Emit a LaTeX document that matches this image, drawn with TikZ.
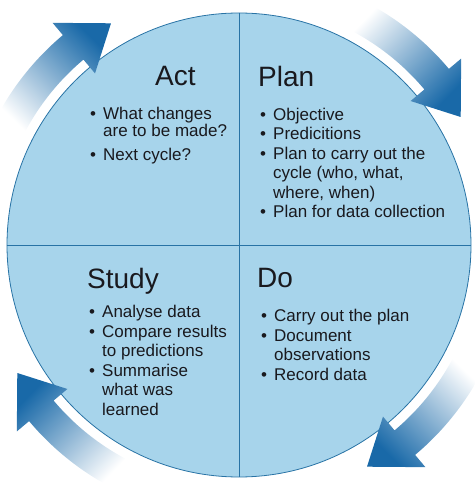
\documentclass[tikz,border=0pt]{standalone}
\usepackage{fontspec}
\setmainfont{Liberation Sans}
\usepackage{tikz}
\usepackage{xcolor}

\definecolor{circlefill}{RGB}{167,212,235}
\definecolor{circleline}{RGB}{40,115,165}
\definecolor{arrowblue}{RGB}{25,105,168}
\definecolor{textdark}{RGB}{25,25,30}

\newlength{\bulw}
\setlength{\bulw}{13pt}
\newcommand{\bul}{\makebox[\bulw][l]{\textbullet}}
\newcommand{\ind}{\hspace*{\bulw}}

\begin{document}
\begin{tikzpicture}[x=1pt, y=1pt,
    title/.style={anchor=base west, inner sep=0pt, text=textdark, font=\fontsize{28}{30}\selectfont},
    items/.style={anchor=base west, inner sep=0pt, align=left, text=textdark, font=\fontsize{17}{19.5}\selectfont},
    cyclearrow/.style={top color=arrowblue, bottom color=white, shading angle=#1}]

    \useasboundingbox (-239,-239) rectangle (235,245);

    % Circle and quadrants
    \node[circle, draw=circleline, line width=0.8pt, fill=circlefill, minimum size=464pt, inner sep=0pt] (cycle) at (0,0) {};
    \draw[circleline, line width=0.9pt] (cycle.north) -- (cycle.south);
    \draw[circleline, line width=0.9pt] (cycle.west) -- (cycle.east);

    % Arrows round the circle
    \shade[cyclearrow=-44] (153:242) arc[start angle=153, end angle=130, radius=242] -- (130:224) -- (120:256)
        -- (130:290) -- (130:274) arc[start angle=130, end angle=153, radius=274] -- cycle;
    \shade[cyclearrow=-134] (63:242) arc[start angle=63, end angle=40, radius=242] -- (40:224) -- (30:256)
        -- (40:290) -- (40:274) arc[start angle=40, end angle=63, radius=274] -- cycle;
    \shade[cyclearrow=136] (-27:242) arc[start angle=-27, end angle=-50, radius=242] -- (-50:224) -- (-60:256)
        -- (-50:290) -- (-50:274) arc[start angle=-50, end angle=-27, radius=274] -- cycle;
    \shade[cyclearrow=46] (-117:242) arc[start angle=-117, end angle=-140, radius=242] -- (-140:224) -- (-150:256)
        -- (-140:290) -- (-140:274) arc[start angle=-140, end angle=-117, radius=274] -- cycle;

    % Act (list placed by its last line)
    \node[title] (act) at (-84,159) {Act};
    \node[items, font=\fontsize{17}{17}\selectfont] (actlist) at (-149,84)
        {\bul What changes\\ \ind are to be made?\\[7pt] \bul Next cycle?};

    % Plan
    \node[title] (plan) at (19,158) {Plan};
    \node[items] (planlist) at (21,27)
        {\bul Objective\\ \bul Predicitions\\ \bul Plan to carry out the\\ \ind cycle (who, what,\\ \ind where, when)\\ \bul Plan for data collection};

    % Study
    \node[title] (study) at (-152,-43) {Study};
    \node[items] (studylist) at (-150,-170)
        {\bul Analyse data\\ \bul Compare results\\ \ind to predictions\\ \bul Summarise\\ \ind what was\\ \ind learned};

    % Do
    \node[title] (do) at (18,-42) {Do};
    \node[items] (dolist) at (22,-135)
        {\bul Carry out the plan\\ \bul Document\\ \ind observations\\ \bul Record data};
\end{tikzpicture}
\end{document}
